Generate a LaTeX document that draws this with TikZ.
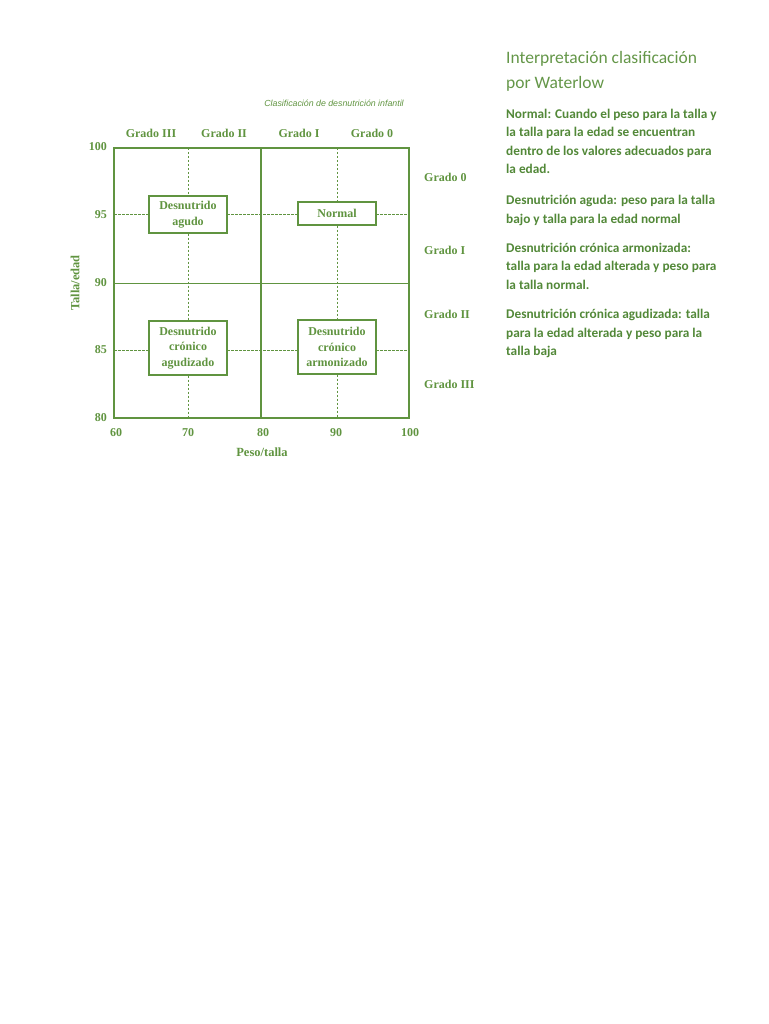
\documentclass[tikz,border=0pt]{standalone}
\usepackage{fontspec}
\setmainfont{Liberation Serif}
\newfontfamily\bodyfont{Carlito}
\newfontfamily\capfont{Liberation Sans}
\definecolor{chartgreen}{RGB}{96,148,64}
\definecolor{bodygreen}{RGB}{82,136,56}
\definecolor{titlegreen}{RGB}{100,150,72}
\begin{document}
\begin{tikzpicture}[x=1pt,y=-1pt,
  frame/.style={draw=chartgreen,line width=1.5pt},
  guide/.style={draw=chartgreen,line width=1pt,dash pattern=on 2.5pt off 1.5pt},
  thinline/.style={draw=chartgreen,line width=0.8pt},
  catbox/.style={draw=chartgreen,line width=1.4pt,fill=white,minimum width=77pt,inner sep=0pt,
    align=center,text=chartgreen,font=\fontsize{12}{15.5}\selectfont\bfseries},
  grado/.style={text=chartgreen,font=\fontsize{12}{14}\selectfont\bfseries,inner sep=0pt},
  tick/.style={text=chartgreen,font=\fontsize{12}{14}\selectfont\bfseries,inner sep=0pt},
  axtitle/.style={text=chartgreen,font=\fontsize{12.5}{14}\selectfont\bfseries,inner sep=0pt},
  bodytext/.style={text=bodygreen,font=\bodyfont\fontsize{13.3}{18.5}\selectfont\bfseries,
    align=left,inner sep=0pt,anchor=base west},
  headtext/.style={text=titlegreen,font=\bodyfont\fontsize{17.5}{25}\selectfont,
    align=left,inner sep=0pt,anchor=base west}
]
\useasboundingbox (0,0) rectangle (768,1024);

% coordinates on the frame
\coordinate (tl) at (114,148);
\coordinate (br) at (409,418);
\coordinate (v70t) at (188,148);
\coordinate (v70b) at (188,418);
\coordinate (v90t) at (337,148);
\coordinate (v90b) at (337,418);
\coordinate (h95l) at (114,215);
\coordinate (h95r) at (409,215);
\coordinate (h85l) at (114,350);
\coordinate (h85r) at (409,350);
\coordinate (v80t) at (261,148);
\coordinate (v80b) at (261,418);
\coordinate (h90l) at (114,283);
\coordinate (h90r) at (409,283);

% category boxes
\node[catbox,minimum height=37pt] (agudo) at (188,214.5) {Desnutrido\\agudo};
\node[catbox,minimum height=23pt] (normal) at (337,213.5) {Normal};
\node[catbox,minimum height=54pt] (agudizado) at (188,348) {Desnutrido\\crónico\\agudizado};
\node[catbox,minimum height=54pt] (armonizado) at (337,347) {Desnutrido\\crónico\\armonizado};

% solid division lines
\draw[frame] (v80t) -- (v80b);
\draw[thinline] (h90l) -- (h90r);

% dotted guides
\draw[guide] (v70t) -- (agudo.north);
\draw[guide] (agudo.south) -- (agudizado.north);
\draw[guide] (agudizado.south) -- (v70b);
\draw[guide] (v90t) -- (normal.north);
\draw[guide] (normal.south) -- (armonizado.north);
\draw[guide] (armonizado.south) -- (v90b);
\draw[guide] (h95l) -- (h95l-|agudo.west);
\draw[guide] (agudo.east|-h95l) -- (normal.west|-h95l);
\draw[guide] (normal.east|-h95r) -- (h95r);
\draw[guide] (h85l) -- (h85l-|agudizado.west);
\draw[guide] (agudizado.east|-h85l) -- (armonizado.west|-h85l);
\draw[guide] (armonizado.east|-h85r) -- (h85r);

% redraw box outlines on top
\draw[draw=chartgreen,line width=1.4pt] (agudo.south west) rectangle (agudo.north east);
\draw[draw=chartgreen,line width=1.4pt] (normal.south west) rectangle (normal.north east);
\draw[draw=chartgreen,line width=1.4pt] (agudizado.south west) rectangle (agudizado.north east);
\draw[draw=chartgreen,line width=1.4pt] (armonizado.south west) rectangle (armonizado.north east);

% frame
\draw[frame] (tl) rectangle (br);

% caption
\node[text=chartgreen,font=\capfont\itshape\fontsize{8.8}{10}\selectfont,inner sep=0pt] (cap) at (334,103) {Clasificación de desnutrición infantil};

% top grades
\node[grado,anchor=base] (g3t) at (151,138) {Grado III};
\node[grado,anchor=base] (g2t) at (224,138) {Grado II};
\node[grado,anchor=base] (g1t) at (299,138) {Grado I};
\node[grado,anchor=base] (g0t) at (372,138) {Grado 0};

% right grades
\node[grado,anchor=base west] (g0r) at (424,182) {Grado 0};
\node[grado,anchor=base west] (g1r) at (424,254) {Grado I};
\node[grado,anchor=base west] (g2r) at (424,318) {Grado II};
\node[grado,anchor=base west] (g3r) at (424,388) {Grado III};

% y ticks
\node[tick,anchor=east] (y100) at (107,147) {100};
\node[tick,anchor=east] (y95) at (107,215) {95};
\node[tick,anchor=east] (y90) at (107,283) {90};
\node[tick,anchor=east] (y85) at (107,350) {85};
\node[tick,anchor=east] (y80) at (107,418) {80};

% x ticks
\node[tick,anchor=base] (x60) at (116,436) {60};
\node[tick,anchor=base] (x70) at (188,436) {70};
\node[tick,anchor=base] (x80) at (263,436) {80};
\node[tick,anchor=base] (x90) at (336,436) {90};
\node[tick,anchor=base] (x100) at (410,436) {100};

% axis titles
\node[axtitle,anchor=base] (xt) at (262,456) {Peso/talla};
\node[axtitle,rotate=90] (yt) at (75,283) {Talla/edad};

% right text (anchor = baseline of the last line)
\node[headtext] (h1) at (506,89) {Interpretación clasificación\\por Waterlow};
\node[bodytext] (p1) at (506,174) {Normal: Cuando el peso para la talla y\\la talla para la edad se encuentran\\dentro de los valores adecuados para\\la edad.};
\node[bodytext] (p2) at (506,223) {Desnutrición aguda: peso para la talla\\bajo y talla para la edad normal};
\node[bodytext] (p3) at (506,289) {Desnutrición crónica armonizada:\\talla para la edad alterada y peso para\\la talla normal.};
\node[bodytext] (p4) at (506,355.5) {Desnutrición crónica agudizada: talla\\para la edad alterada y peso para la\\talla baja};
\end{tikzpicture}
\end{document}
